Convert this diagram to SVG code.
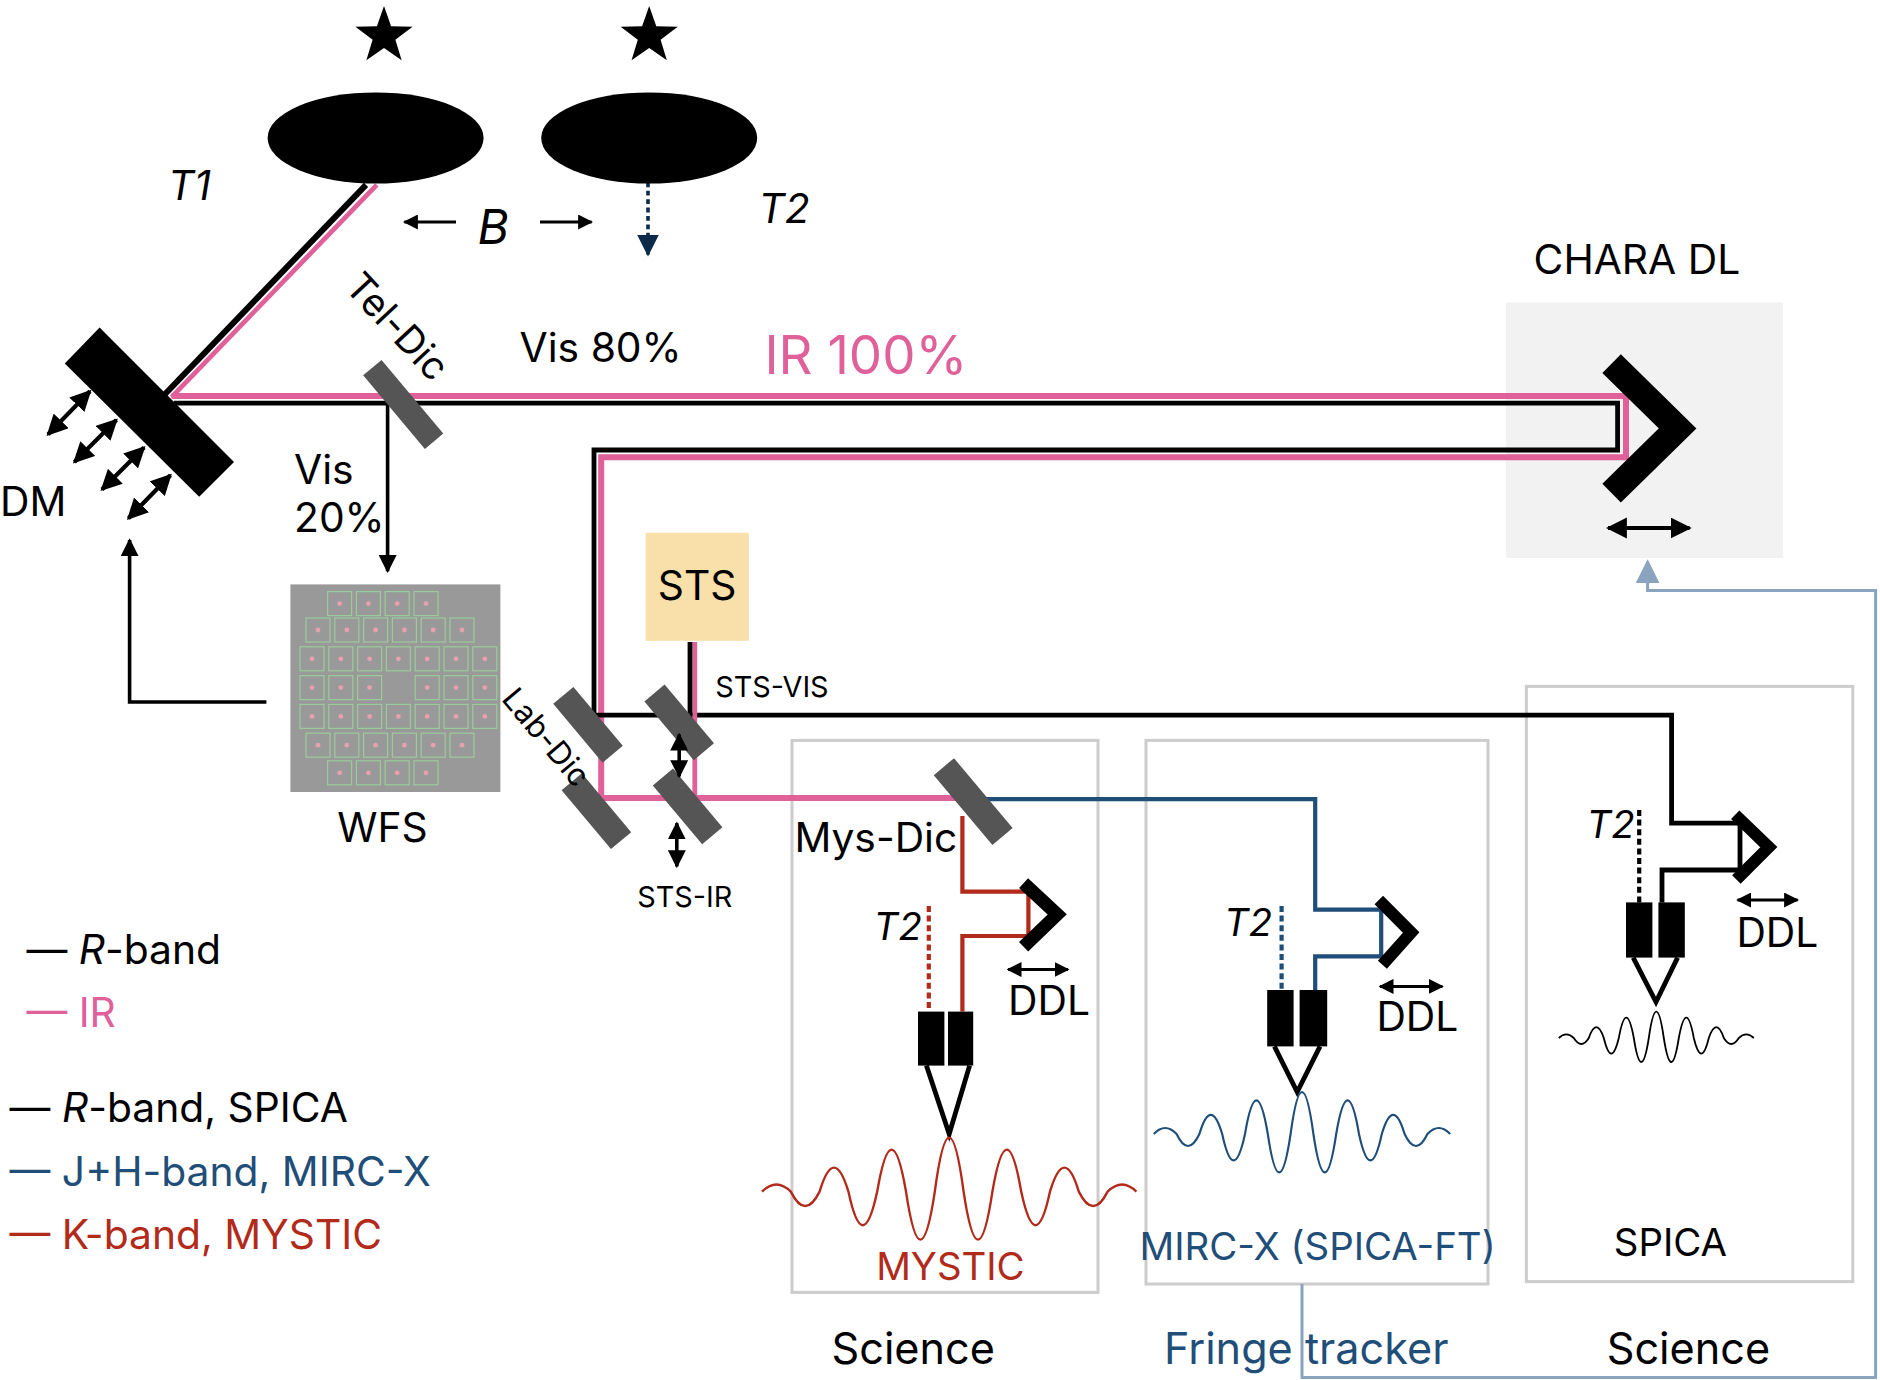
<svg xmlns="http://www.w3.org/2000/svg" width="1880" height="1380" viewBox="0 0 1880 1380">
<defs>
<style>
text{font-family:Inter,Roboto,"Liberation Sans",sans-serif;fill:#000}
.k{stroke:#000;fill:none}
.p{stroke:#e0609a;fill:none}
.b{stroke:#1f4e79;fill:none}
.r{stroke:#b22a1a;fill:none}
.mir{fill:#555}
.box{fill:none;stroke:#ccc;stroke-width:2.5}
.det{fill:#000}
.wfsq{fill:none;stroke:#9c9;stroke-width:1}
</style>
<marker id="ah" viewBox="0 0 10 10" refX="9" refY="5" markerWidth="5" markerHeight="5" orient="auto-start-reverse"><path d="M0,0L10,5L0,10z" fill="#000"/></marker>
<marker id="ahn" viewBox="0 0 10 10" refX="9" refY="5" markerWidth="6" markerHeight="6" orient="auto"><path d="M0,0L10,5L0,10z" fill="#0b2a4a"/></marker>
<marker id="ahg" viewBox="0 0 10 10" refX="9" refY="5" markerWidth="8" markerHeight="8" orient="auto"><path d="M0,0L10,5L0,10z" fill="#8aa4bf"/></marker>
<polygon id="star" points="0,-25 5.9,-8.1 23.8,-7.7 9.5,3.1 14.7,20.2 0,10 -14.7,20.2 -9.5,3.1 -23.8,-7.7 -5.9,-8.1"/>
<g id="sq"><rect width="20" height="20" class="wfsq"/><circle cx="10" cy="10" r="2" fill="#e8a0b0"/></g>
</defs>
<rect width="1880" height="1380" fill="#fff"/>
<g transform="scale(1.2)">
<g id="chara-dl"><rect x="1255" y="252" width="231" height="213" fill="#f2f2f2"/>
<text x="1278" y="228" font-size="34">CHARA DL</text></g>
<g id="boxes">
<rect class="box" x="660" y="617" width="255" height="460"/>
<rect class="box" x="955" y="617" width="285" height="453"/>
<rect class="box" x="1272" y="572" width="272" height="496"/>
</g>
<g id="connectors">
<line class="k" x1="305" y1="154" x2="136" y2="330" stroke-width="5"/>
<line class="p" x1="314" y1="154" x2="143" y2="331" stroke-width="4"/>
<polyline class="p" stroke-width="5" points="143,330 1355,330 1355,381 501,381 501,665 802,665"/>
<polyline class="k" stroke-width="4" points="145,336 1348,336 1348,375 495,375 495,596 1393,596 1393,686 1450,686"/>
<polyline class="k" stroke-width="4" points="1450,686 1450,725 1385,725 1385,752"/>
<polyline class="p" stroke-width="4" points="579,535 579,665"/>
<line class="k" x1="575" y1="535" x2="575" y2="596" stroke-width="4"/>
<polyline class="b" stroke-width="3.5" points="820,666 1096,666 1096,758 1151,758 1151,797 1096,797 1096,826"/>
<polyline class="r" stroke-width="3.5" points="802,680 802,743 857,743 857,780 802,780 802,843"/>
<line class="k" x1="323" y1="337" x2="323" y2="476" stroke-width="3" marker-end="url(#ah)"/>
<polyline class="k" stroke-width="3" points="222,585 108,585 108,450" marker-end="url(#ah)"/>
<polyline fill="none" stroke="#8aa4bf" stroke-width="2.5" points="1085,1070 1085,1148 1563,1148 1563,492 1373,492 1373,468" marker-end="url(#ahg)"/>
<line x1="540" y1="152" x2="540" y2="212" stroke="#0b2a4a" stroke-width="3" stroke-dasharray="4,3" marker-end="url(#ahn)"/>
<line class="k" x1="380" y1="185" x2="337" y2="185" stroke-width="2.5" marker-end="url(#ah)"/>
<line class="k" x1="450" y1="185" x2="493" y2="185" stroke-width="2.5" marker-end="url(#ah)"/>
</g>
<g id="telescopes">
<use href="#star" x="320" y="30"/><use href="#star" x="541" y="30"/>
<ellipse cx="313" cy="115" rx="90" ry="38"/>
<ellipse cx="541" cy="115" rx="90" ry="38"/>
<text x="140" y="167" font-size="34" font-style="italic">T1</text>
<text x="632" y="186" font-size="34" font-style="italic">T2</text>
<text x="398" y="203" font-size="40" font-style="italic">B</text>
</g>
<g id="dm">
<polygon points="83,273 54,303 166,414 195,385"/>
<g class="k" stroke-width="3.5" marker-start="url(#ah)" marker-end="url(#ah)">
<line x1="75" y1="326" x2="40" y2="362"/><line x1="97" y1="350" x2="62" y2="385"/>
<line x1="120" y1="373" x2="85" y2="408"/><line x1="142" y1="396" x2="107" y2="432"/>
</g>
<text x="0" y="430" font-size="34">DM</text>
</g>
<g id="tel-dic">
<rect class="mir" x="-40" y="-10" width="80" height="20" transform="translate(336,337) rotate(50)"/>
<text font-size="32" transform="translate(286,240) rotate(47)">Tel-Dic</text>
</g>
<text x="433" y="302" font-size="34">Vis 80%</text>
<text x="637" y="312" font-size="44" style="fill:#e0609a">IR 100%</text>
<text x="245" y="403" font-size="34">Vis</text>
<text x="245" y="443" font-size="34">20%</text>
<g id="wfs">
<rect x="242" y="487" width="175" height="173" fill="#999"/>
<use href="#sq" x="273" y="493"/><use href="#sq" x="297" y="493"/><use href="#sq" x="321" y="493"/><use href="#sq" x="345" y="493"/>
<use href="#sq" x="255" y="515"/><use href="#sq" x="279" y="515"/><use href="#sq" x="303" y="515"/><use href="#sq" x="327" y="515"/><use href="#sq" x="351" y="515"/><use href="#sq" x="375" y="515"/>
<use href="#sq" x="250" y="539"/><use href="#sq" x="274" y="539"/><use href="#sq" x="298" y="539"/><use href="#sq" x="322" y="539"/><use href="#sq" x="346" y="539"/><use href="#sq" x="370" y="539"/><use href="#sq" x="394" y="539"/>
<use href="#sq" x="250" y="563"/><use href="#sq" x="274" y="563"/><use href="#sq" x="298" y="563"/><use href="#sq" x="346" y="563"/><use href="#sq" x="370" y="563"/><use href="#sq" x="394" y="563"/>
<use href="#sq" x="250" y="587"/><use href="#sq" x="274" y="587"/><use href="#sq" x="298" y="587"/><use href="#sq" x="322" y="587"/><use href="#sq" x="346" y="587"/><use href="#sq" x="370" y="587"/><use href="#sq" x="394" y="587"/>
<use href="#sq" x="255" y="611"/><use href="#sq" x="279" y="611"/><use href="#sq" x="303" y="611"/><use href="#sq" x="327" y="611"/><use href="#sq" x="351" y="611"/><use href="#sq" x="375" y="611"/>
<use href="#sq" x="273" y="634"/><use href="#sq" x="297" y="634"/><use href="#sq" x="321" y="634"/><use href="#sq" x="345" y="634"/>
<text x="281" y="702" font-size="34">WFS</text>
</g>
<g id="sts">
<rect x="538" y="444" width="86" height="90" fill="#f9dfa9"/>
<text x="581" y="500" font-size="34" text-anchor="middle">STS</text>
<text x="596" y="581" font-size="24">STS-VIS</text>
<text x="531" y="756" font-size="24">STS-IR</text>
</g>
<g id="lab-dic">
<rect class="mir" x="-32" y="-11" width="64" height="22" transform="translate(490,604) rotate(50)"/>
<rect class="mir" x="-32" y="-11" width="64" height="22" transform="translate(497,676) rotate(50)"/>
<rect class="mir" x="-32" y="-11" width="64" height="22" transform="translate(566,602) rotate(50)"/>
<rect class="mir" x="-32" y="-11" width="64" height="22" transform="translate(573,672) rotate(50)"/>
<text font-size="26" transform="translate(417,583) rotate(50)">Lab-Dic</text>
<g class="k" stroke-width="3" marker-start="url(#ah)" marker-end="url(#ah)">
<line x1="566" y1="612" x2="566" y2="647"/><line x1="564" y1="686" x2="564" y2="722"/></g>
</g>
<g id="delay-line">
<polyline class="k" stroke-width="22" stroke-linejoin="miter" points="1343,303 1398,357 1343,411"/>
<line class="k" x1="1340" y1="440" x2="1408" y2="440" stroke-width="3.5" marker-start="url(#ah)" marker-end="url(#ah)"/>
</g>
<g id="mystic">
<rect class="mir" x="-38" y="-11" width="76" height="22" transform="translate(811,668) rotate(50)"/>
<text x="662" y="710" font-size="34">Mys-Dic</text>
<polyline class="k" stroke-width="11" points="853,736 881,762 853,789"/>
<line x1="774" y1="755" x2="774" y2="843" stroke="#b22a1a" stroke-width="3.5" stroke-dasharray="5,3"/>
<text x="728" y="783" font-size="32" font-style="italic">T2</text>
<line class="k" x1="840" y1="808" x2="890" y2="808" stroke-width="2.5" marker-start="url(#ah)" marker-end="url(#ah)"/>
<text x="840" y="846" font-size="34">DDL</text>
<rect class="det" x="765" y="843" width="22" height="45"/><rect class="det" x="790" y="843" width="21" height="45"/>
<polyline class="k" stroke-width="4" points="772,888 791,945 808,888"/>
<path class="r" stroke-width="2" d="M635,993 Q647,981 659,993 Q671,1017 683,993 Q695,953 707,993 Q719,1049 731,993 Q743,923 755,993 Q767,1073 779,993 Q791,903 803,993 Q815,1073 827,993 Q839,923 851,993 Q863,1049 875,993 Q887,953 899,993 Q911,1017 923,993 Q935,981 947,993"/>
<text x="792" y="1067" font-size="32" text-anchor="middle" style="fill:#b22a1a">MYSTIC</text>
</g>
<g id="mircx">
<polyline class="k" stroke-width="10" points="1149,750 1176,777 1152,804"/>
<line x1="1068" y1="755" x2="1068" y2="825" stroke="#1f4e79" stroke-width="3.5" stroke-dasharray="5,3"/>
<text x="1020" y="780" font-size="32" font-style="italic">T2</text>
<line class="k" x1="1150" y1="822" x2="1202" y2="822" stroke-width="2.5" marker-start="url(#ah)" marker-end="url(#ah)"/>
<text x="1147" y="859" font-size="34">DDL</text>
<rect class="det" x="1056" y="825" width="22" height="47"/><rect class="det" x="1083" y="825" width="23" height="47"/>
<polyline class="k" stroke-width="4" points="1062,872 1081,910 1100,872"/>
<path class="b" stroke-width="1.8" stroke="#2a5db0" d="M961.5,945 Q971,935 980.5,945 Q990,965 999.5,945 Q1009,913 1018.5,945 Q1028,989 1037.5,945 Q1047,889 1056.5,945 Q1066,1009 1075.5,945 Q1085,875 1094.5,945 Q1104,1009 1113.5,945 Q1123,889 1132.5,945 Q1142,989 1151.5,945 Q1161,913 1170.5,945 Q1180,965 1189.5,945 Q1199,935 1208.5,945"/>
<text x="1098" y="1050" font-size="32" text-anchor="middle" style="fill:#1f4e79">MIRC-X (SPICA-FT)</text>
</g>
<g id="spica">
<polyline class="k" stroke-width="10" points="1446,679 1474,706 1447,733"/>
<line x1="1366" y1="675" x2="1366" y2="752" stroke="#000" stroke-width="3.5" stroke-dasharray="5,3"/>
<text x="1322" y="698" font-size="32" font-style="italic">T2</text>
<line class="k" x1="1448" y1="750" x2="1498" y2="750" stroke-width="2.5" marker-start="url(#ah)" marker-end="url(#ah)"/>
<text x="1447" y="789" font-size="34">DDL</text>
<rect class="det" x="1355" y="752" width="22" height="46"/><rect class="det" x="1382" y="752" width="22" height="46"/>
<polyline class="k" stroke-width="4" points="1361,798 1380,835 1398,798"/>
<path class="k" stroke-width="1.5" stroke="#222" d="M1299,865 Q1305.25,859 1311.5,865 Q1317.75,875 1324,865 Q1330.25,847 1336.5,865 Q1342.75,891 1349,865 Q1355.25,831 1361.5,865 Q1367.75,905 1374,865 Q1380.25,821 1386.5,865 Q1392.75,905 1399,865 Q1405.25,831 1411.5,865 Q1417.75,891 1424,865 Q1430.25,847 1436.5,865 Q1442.75,875 1449,865 Q1455.25,859 1461.5,865"/>
<text x="1392" y="1047" font-size="32" text-anchor="middle">SPICA</text>
</g>
<g id="captions">
<text x="761" y="1137" font-size="36" text-anchor="middle">Science</text>
<text x="970" y="1137" font-size="36" style="fill:#1f4e79">Fringe tracker</text>
<text x="1407" y="1137" font-size="36" text-anchor="middle">Science</text>
</g>
<g id="legend" font-size="34">
<text x="22" y="803">— <tspan font-style="italic">R</tspan>-band</text>
<text x="22" y="856" style="fill:#e0609a">— IR</text>
<text x="8" y="935">— <tspan font-style="italic">R</tspan>-band, SPICA</text>
<text x="8" y="988" style="fill:#1f4e79">— J+H-band, MIRC-X</text>
<text x="8" y="1041" style="fill:#b22a1a">— K-band, MYSTIC</text>
</g>
</g>
</svg>
